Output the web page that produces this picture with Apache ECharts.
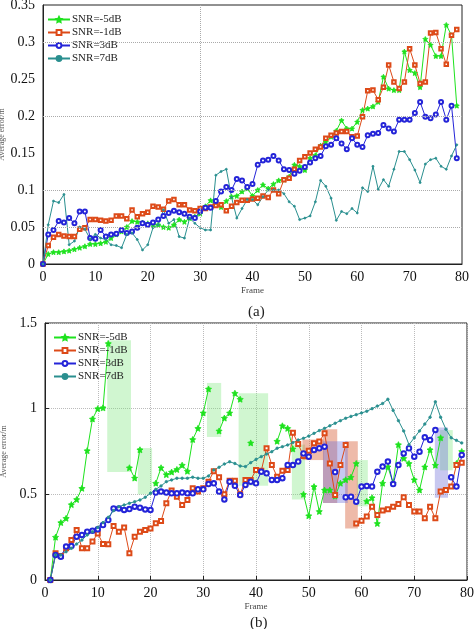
<!DOCTYPE html>
<html>
<head>
<meta charset="utf-8">
<script src="https://cdn.jsdelivr.net/npm/echarts@6/dist/echarts.min.js"></script>
<style>
  html, body { margin: 0; padding: 0; background: #fff; }
  #main { width: 474px; height: 629px; }
</style>
</head>
<body>
<div id="main"></div>
<script>
/* legend names */
var names = ['SNR=-5dB', 'SNR=-1dB', 'SNR=3dB', 'SNR=7dB']

/* (a) frames start at 0 */
var startA = 0
var greenA = [
  0, 0.0135, 0.016, 0.016, 0.017, 0.018, 0.02, 0.022, 0.024, 0.027,
  0.027, 0.028, 0.03, 0.035, 0.04, 0.044, 0.05, 0.058, 0.057, 0.056,
  0.055, 0.053, 0.053, 0.05, 0.049, 0.053, 0.06, 0.057, 0.062, 0.064,
  0.068, 0.078, 0.086, 0.08, 0.077, 0.085, 0.091, 0.092, 0.098, 0.102,
  0.092, 0.1, 0.107, 0.102, 0.108, 0.113, 0.114, 0.118, 0.134, 0.132,
  0.127, 0.143, 0.147, 0.16, 0.165, 0.172, 0.18, 0.194, 0.183, 0.183,
  0.192, 0.208, 0.21, 0.213, 0.219, 0.253, 0.237, 0.235, 0.235, 0.287,
  0.262, 0.258, 0.239, 0.304, 0.296, 0.281, 0.281, 0.323, 0.309, 0.214]
var redA = [
  0, 0.025, 0.036, 0.04, 0.038, 0.037, 0.037, 0.047, 0.049, 0.06,
  0.06, 0.059, 0.058, 0.059, 0.065, 0.065, 0.061, 0.073, 0.064, 0.068,
  0.07, 0.078, 0.077, 0.074, 0.085, 0.087, 0.08, 0.08, 0.073, 0.072,
  0.075, 0.075, 0.077, 0.079, 0.08, 0.072, 0.078, 0.083, 0.086, 0.086,
  0.088, 0.089, 0.092, 0.09, 0.1, 0.095, 0.114, 0.116, 0.128, 0.14,
  0.145, 0.15, 0.155, 0.158, 0.17, 0.174, 0.177, 0.179, 0.179, 0.172,
  0.173, 0.199, 0.234, 0.235, 0.222, 0.239, 0.269, 0.246, 0.237, 0.246,
  0.291, 0.269, 0.244, 0.246, 0.312, 0.313, 0.291, 0.27, 0.309, 0.317]
var blueA = [
  0, 0.04, 0.046, 0.058, 0.056, 0.062, 0.055, 0.071, 0.071, 0.035,
  0.034, 0.046, 0.037, 0.04, 0.041, 0.046, 0.042, 0.044, 0.049, 0.055,
  0.053, 0.056, 0.06, 0.065, 0.069, 0.072, 0.07, 0.068, 0.064, 0.062,
  0.071, 0.076, 0.076, 0.085, 0.098, 0.104, 0.1, 0.115, 0.113, 0.104,
  0.108, 0.134, 0.14, 0.141, 0.146, 0.14, 0.128, 0.127, 0.122, 0.126,
  0.131, 0.137, 0.143, 0.146, 0.159, 0.161, 0.17, 0.163, 0.155, 0.17,
  0.161, 0.158, 0.174, 0.176, 0.177, 0.188, 0.183, 0.179, 0.195, 0.195,
  0.195, 0.204, 0.219, 0.199, 0.197, 0.202, 0.219, 0.195, 0.214, 0.143]
var tealA = [
  0, 0.053, 0.085, 0.083, 0.094, 0.026, 0.031, 0.05, 0.047, 0.034,
  0.04, 0.035, 0.033, 0.026, 0.025, 0.022, 0.04, 0.042, 0.033, 0.019,
  0.026, 0.049, 0.053, 0.073, 0.055, 0.06, 0.037, 0.035, 0.062, 0.055,
  0.049, 0.046, 0.046, 0.12, 0.125, 0.128, 0.09, 0.062, 0.075, 0.087,
  0.087, 0.08, 0.091, 0.1, 0.1, 0.1, 0.095, 0.084, 0.078, 0.06,
  0.062, 0.065, 0.084, 0.113, 0.105, 0.089, 0.059, 0.071, 0.068, 0.075,
  0.069, 0.103, 0.098, 0.132, 0.101, 0.114, 0.105, 0.128, 0.152, 0.152,
  0.141, 0.127, 0.11, 0.135, 0.141, 0.143, 0.132, 0.128, 0.146, 0.161]
// (a) only has grid lines at these values
var gridAy = [0.05, 0.1, 0.2, 0.3]
var gridAx = [30]

/* (b) frames start at 1, null = gap */
var startB = 1
var greenB = [
  0, 0.25, 0.335, 0.36, 0.44, 0.47, 0.535, 0.755, 0.94, 1.0,
  1.005, 1.38, null, null, null, 0.655, 0.595, 0.76, null, null,
  0.565, 0.655, 0.615, 0.63, 0.645, 0.67, 0.635, 0.82, 0.885, 0.975,
  1.115, null, 0.87, 0.945, 0.975, 1.09, 1.055, null, 0.80, null,
  null, null, null, 0.81, 0.90, 0.885, 0.765, null, 0.50, 0.375,
  0.545, 0.40, 0.525, 0.525, 0.49, 0.565, 0.585, 0.60, 0.68, null,
  0.46, 0.48, 0.33, 0.565, 0.66, 0.565, 0.79, 0.71, 0.68, 0.585,
  0.525, 0.66, 0.76, 0.67, 0.83, null, null, 0.68, 0.75]
var redB = [
  0, 0.156, 0.14, 0.185, 0.233, 0.292, 0.185, 0.185, 0.224, 0.272,
  0.21, 0.208, 0.315, 0.282, 0.307, 0.156, 0.253, 0.282, 0.292, 0.30,
  0.331, 0.344, 0.448, 0.522, 0.486, 0.438, 0.467, 0.535, 0.516, 0.535,
  0.574, 0.635, 0.6, 0.5, 0.58, 0.58, 0.5, 0.584, 0.584, 0.642,
  0.638, 0.769, 0.671, 0.603, 0.638, 0.642, 0.86, 0.794, 0.724, 0.755,
  0.798, 0.808, 0.856, 0.68, 0.496, 0.671, 0.788, null, 0.33, 0.346,
  0.37, 0.428, 0.379, 0.405, 0.413, 0.428, 0.444, 0.483, 0.438, 0.40,
  0.40, 0.36, 0.428, 0.36, 0.516, 0.525, 0.545, 0.671, 0.685]
var blueB = [
  0, 0.146, 0.136, 0.195, 0.198, 0.253, 0.263, 0.282, 0.288, 0.296,
  0.321, 0.35, 0.418, 0.418, 0.409, 0.414, 0.428, 0.422, 0.412, 0.409,
  0.51, 0.516, 0.51, 0.506, 0.506, 0.51, 0.506, 0.506, 0.529, 0.529,
  0.56, 0.564, 0.516, 0.47, 0.574, 0.55, 0.496, 0.555, 0.574, 0.564,
  0.632, 0.623, 0.584, 0.584, 0.594, 0.671, 0.671, 0.691, 0.739, 0.72,
  0.759, 0.769, 0.778, null, 0.63, null, 0.483, 0.486, 0.457, 0.545,
  0.549, 0.545, 0.632, 0.662, 0.691, 0.56, 0.671, 0.739, 0.769, 0.72,
  0.749, 0.833, 0.817, 0.876, null, null, 0.6, 0.545, 0.73]
var tealB = [
  0, 0.146, 0.146, 0.165, 0.185, 0.21, 0.233, 0.263, 0.282, 0.307,
  0.335, 0.366, 0.405, 0.428, 0.438, 0.448, 0.457, 0.467, 0.483, 0.506,
  0.529, 0.549, 0.574, 0.584, 0.594, 0.594, 0.594, 0.60, 0.594, 0.594,
  0.607, 0.642, 0.658, 0.677, 0.69, 0.68, 0.665, 0.662, 0.685, 0.704,
  0.72, 0.735, 0.749, 0.769, 0.778, 0.788, 0.802, 0.817, 0.827, 0.84,
  0.856, 0.872, 0.885, 0.9, 0.915, 0.93, 0.944, 0.955, 0.965, 0.975,
  0.985, 1.0, 1.015, 1.03, 1.055, 0.99, 0.93, 0.87, 0.79, 0.83,
  0.87, 0.91, 0.95, 1.04, 0.95, 0.88, 0.83, 0.815, 0.80]

/* shaded boxes in (b): [x0, x1, y0, y1] */
var greenBoxes = [[11.8, 16.3, 0.63, 1.40], [17.6, 20.3, 0.50, 0.77], [30.7, 33.4, 0.835, 1.15],
  [36.7, 42.3, 0.55, 1.09], [46.8, 49.3, 0.47, 0.79], [59.1, 61.2, 0.43, 0.70], [74.9, 77.3, 0.64, 0.875]]
var redBoxes = [[48.8, 52.8, 0.70, 0.82], [52.7, 55.4, 0.45, 0.88], [56.9, 59.3, 0.30, 0.81]]
var blueBoxes = [[52.7, 57.4, 0.45, 0.81], [73.9, 76.4, 0.48, 0.89]]

var colors = ['#1ee21e', '#dd4a18', '#2424d8', '#2a8f8f']
var starPath = 'path://M0,-10L2.9,-4L9.5,-3.1L4.7,1.5L5.9,8.1L0,5L-5.9,8.1L-4.7,1.5L-9.5,-3.1L-2.9,-4Z'
var symbols = [starPath, 'emptyRect', 'emptyCircle', 'circle']
var sizesA = [5, 3.5, 4, 2]
var sizesB = [6, 4, 4.5, 2.5]
var serif = 'Liberation Serif'

function pairs (start, vals) {
  return vals.map(function (v, i) { return [start + i, v == null ? '-' : v] })
}

function boxes (list) {
  return list.map(function (b) {
    return [{ xAxis: b[0], yAxis: b[3] }, { xAxis: b[1], yAxis: b[2] }]
  })
}

function line (k, idx, data) {
  return {
    name: names[k],
    type: 'line',
    xAxisIndex: idx,
    yAxisIndex: idx,
    data: data,
    symbol: symbols[k],
    symbolSize: (idx === 0 ? sizesA : sizesB)[k],
    showSymbol: true,
    color: colors[k],
    lineStyle: { width: 1, color: colors[k] },
    itemStyle: { color: colors[k], borderColor: colors[k], borderWidth: 0.8 },
    emphasis: { disabled: true },
    z: 3
  }
}

function xAxisCfg (idx) {
  return {
    type: 'value', gridIndex: idx, min: 0, max: 80, interval: 10,
    name: 'Frame', nameLocation: 'middle', nameGap: 22, nameMoveOverlap: false,
    nameTextStyle: { fontFamily: serif, fontSize: 9, color: '#444' },
    axisLine: { lineStyle: { color: '#222' } },
    axisTick: { show: idx === 1, inside: true, length: 4, lineStyle: { color: '#222' } },
    axisLabel: { fontFamily: serif, fontSize: 14, color: '#111', margin: 6 },
    splitLine: { show: idx === 1, lineStyle: { color: '#bbb', type: 'dotted' } }
  }
}

function yAxisCfg (idx, max, interval) {
  return {
    type: 'value', gridIndex: idx, min: 0, max: max, interval: interval,
    name: 'Average error/m', nameLocation: 'middle', nameGap: 37, nameMoveOverlap: false,
    nameTextStyle: { fontFamily: serif, fontSize: 8, color: '#555' },
    axisLine: { show: true, lineStyle: { color: '#222' } },
    axisTick: { show: idx === 1, inside: true, length: 4, lineStyle: { color: '#222' } },
    axisLabel: { fontFamily: serif, fontSize: 14, color: '#111', margin: 8 },
    splitLine: { show: idx === 1, lineStyle: { color: '#bbb', type: 'dotted' } }
  }
}

var seriesA = [greenA, redA, blueA, tealA]
var seriesB = [greenB, redB, blueB, tealB]
var series = []

// dotted grid lines of (a)
series.push({
  type: 'line', xAxisIndex: 0, yAxisIndex: 0, data: [], z: 1,
  markLine: {
    silent: true, symbol: 'none', label: { show: false },
    lineStyle: { color: '#aaa', type: 'dotted', width: 1 },
    data: gridAy.map(function (v) { return { yAxis: v } })
      .concat(gridAx.map(function (v) { return { xAxis: v } }))
  }
})

seriesA.forEach(function (vals, k) { series.push(line(k, 0, pairs(startA, vals))) })
seriesB.forEach(function (vals, k) {
  var s = line(k, 1, pairs(startB, vals))
  var bx = [greenBoxes, redBoxes, blueBoxes, null][k]
  var fill = ['rgba(120,230,120,0.35)', 'rgba(215,90,50,0.42)', 'rgba(110,110,215,0.38)', null][k]
  if (bx) {
    s.markArea = { silent: true, itemStyle: { color: fill }, data: boxes(bx) }
  }
  series.push(s)
})

var legendCommon = {
  data: names, orient: 'vertical', itemWidth: 22, itemHeight: 6, itemGap: 2,
  textStyle: { fontFamily: serif, fontSize: 11, color: '#222', padding: [0, 0, 0, -3] },
  selectedMode: false
}

var option = {
  animation: false,
  backgroundColor: '#fff',
  title: [
    { text: '(a)', left: 243, top: 300, textStyle: { fontFamily: serif, fontSize: 15, fontWeight: 'normal', color: '#222' } },
    { text: '(b)', left: 245, top: 611, textStyle: { fontFamily: serif, fontSize: 15, fontWeight: 'normal', color: '#222' } }
  ],
  legend: [
    Object.assign({ left: 42, top: 9 }, legendCommon),
    Object.assign({ left: 48, top: 327 }, legendCommon)
  ],
  grid: [
    { left: 43, right: 12, top: 5, height: 259, show: true, borderColor: '#222', borderWidth: 1,
      backgroundColor: 'transparent', containLabel: false, outerBoundsMode: 'none' },
    { left: 45, right: 7, top: 323, height: 257, show: true, borderColor: '#222', borderWidth: 1,
      backgroundColor: 'transparent', containLabel: false, outerBoundsMode: 'none' }
  ],
  xAxis: [xAxisCfg(0), xAxisCfg(1)],
  yAxis: [yAxisCfg(0, 0.35, 0.05), yAxisCfg(1, 1.5, 0.5)],
  series: series
}

var myChart = echarts.init(document.getElementById('main'))
myChart.setOption(option)
window.onresize = myChart.resize
</script>
</body>
</html>
